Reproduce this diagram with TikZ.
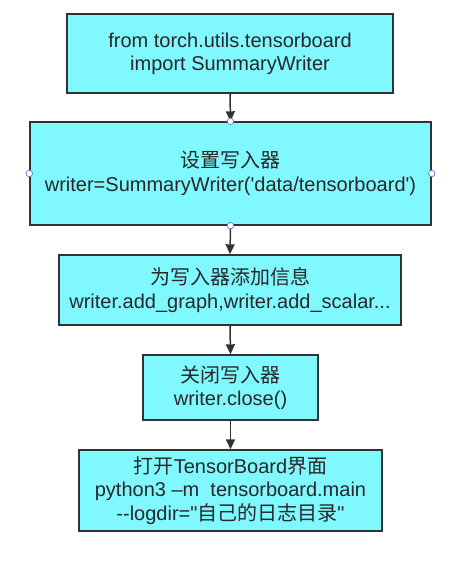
\documentclass[tikz,border=0pt]{standalone}
\usepackage{fontspec}
\setmainfont{Liberation Sans}
\newfontfamily\cjk{Noto Sans CJK SC}
\usetikzlibrary{arrows.meta}
\definecolor{boxfill}{RGB}{128,248,255}
\definecolor{boxline}{RGB}{50,50,50}
\definecolor{handle}{RGB}{90,120,220}
\definecolor{txt}{RGB}{40,40,40}
\begin{document}
\begin{tikzpicture}[x=1pt,y=-1pt,
  flowbox/.style={draw=boxline,line width=1.4pt,fill=boxfill,align=center,
    inner sep=0pt,font=\fontsize{20}{23.3}\selectfont,text=txt},
  flowarrow/.style={draw=boxline,line width=1.5pt,-{Triangle[length=10pt,width=9pt]}},
  handledot/.style={circle,draw=handle,fill=white,line width=0.7pt,minimum size=6.5pt,inner sep=0pt}]
\useasboundingbox (0,0) rectangle (474,567);
\node[flowbox,minimum width=326pt,minimum height=79pt] (b1) at (230,53.5)
  {from torch.utils.tensorboard\\import SummaryWriter};
\node[flowbox,minimum width=401pt,minimum height=103pt] (b2) at (230.5,173.5)
  {{\cjk 设置写入器}\\writer=SummaryWriter(\textquotesingle data/tensorboard\textquotesingle)};
\node[flowbox,minimum width=342pt,minimum height=70pt] (b3) at (230,290)
  {{\cjk 为写入器添加信息}\\writer.add\_graph,writer.add\_scalar...};
\node[flowbox,minimum width=175pt,minimum height=65pt] (b4) at (230.5,387.5)
  {{\cjk 关闭写入器}\\writer.close()};
\node[flowbox,minimum width=303pt,minimum height=81pt] (b5) at (230.5,490.5)
  {{\cjk 打开}TensorBoard{\cjk 界面}\\python3 –m\ \ tensorboard.main\\-{}-logdir=\textquotedbl{\cjk 自己的日志目录}\textquotedbl};
\draw[flowarrow] (b1.south) -- (b2.north);
\draw[flowarrow] (b2.south) -- (b3.north);
\draw[flowarrow] (b3.south) -- (b4.north);
\draw[flowarrow] (b4.south) -- (b5.north);
\node[handledot] (h1) at (b2.north) {};
\node[handledot] (h2) at (b2.south) {};
\node[handledot] (h3) at (b2.west) {};
\node[handledot] (h4) at (b2.east) {};
\end{tikzpicture}
\end{document}
